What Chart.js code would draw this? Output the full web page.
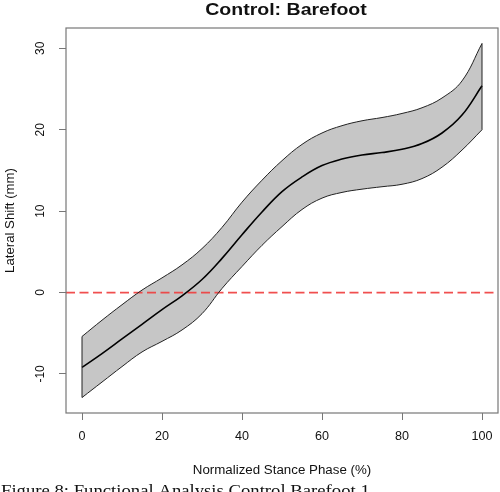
<!DOCTYPE html>
<html>
<head>
<meta charset="utf-8">
<script src="https://cdn.jsdelivr.net/npm/chart.js@4.4.0/dist/chart.umd.min.js"></script>
<style>
  html, body { margin: 0; padding: 0; background: #fff; overflow: hidden; }
  #wrap { width: 500px; height: 492px; }
</style>
</head>
<body>
<div id="wrap"><canvas id="fda-chart" width="500" height="492"></canvas></div>
<script>
// stance phase (%) and lateral shift (mm)
const phase = [0, 5, 10, 15, 20, 25, 30, 35, 40, 45, 50, 55, 60, 65, 70, 75, 80, 85, 90, 95, 100];
const meanShift = [-9.2, -7.5, -5.7, -3.9, -2.1, -0.4, 1.6, 4.2, 7.1, 9.9, 12.4, 14.2, 15.6, 16.4, 16.9, 17.2, 17.6, 18.3, 19.6, 21.8, 25.4];
const upperBand = [-5.4, -3.4, -1.5, 0.3, 1.8, 3.4, 5.4, 8.0, 11.1, 13.8, 16.2, 18.2, 19.6, 20.5, 21.1, 21.5, 22.0, 22.7, 23.9, 26.0, 30.6];
const lowerBand = [-12.9, -11.0, -9.1, -7.3, -6.0, -4.6, -2.6, 0.5, 3.2, 5.8, 8.1, 10.2, 11.6, 12.3, 12.7, 13.0, 13.3, 14.0, 15.4, 17.5, 20.0];
const xTicks = [0, 20, 40, 60, 80, 100];
const yTicks = [-10, 0, 10, 20, 30];
const refLevel = 0;

const pts = arr => arr.map((v, i) => ({ x: phase[i], y: v }));

// text a bit wider than the font, like the scanned figure
function wideText(ctx, str, x, y, sx, angle) {
    ctx.save();
    ctx.translate(x, y);
    if (angle) ctx.rotate(angle);
    ctx.scale(sx, 1);
    ctx.fillText(str, 0, 0);
    ctx.restore();
}

// R-style box, zero line, end caps and all text
const rStyle = {
    id: 'rStyle',
    beforeDatasetsDraw(chart) {
        const { ctx, chartArea: a, scales: { y } } = chart;
        ctx.save();
        ctx.beginPath();
        ctx.rect(a.left, a.top, a.right - a.left, a.bottom - a.top);
        ctx.clip();
        const y0 = y.getPixelForValue(refLevel);
        ctx.strokeStyle = 'rgba(238,60,60,0.9)';
        ctx.lineWidth = 1.8;
        ctx.setLineDash([9, 4.5]);
        ctx.beginPath();
        ctx.moveTo(a.left, y0);
        ctx.lineTo(a.right, y0);
        ctx.stroke();
        ctx.restore();
    },
    afterDatasetsDraw(chart) {
        const { ctx, chartArea: a, scales: { x, y } } = chart;
        ctx.save();
        // band end caps
        ctx.strokeStyle = '#222';
        ctx.lineWidth = 1;
        [0, phase.length - 1].forEach(i => {
            const px = x.getPixelForValue(phase[i]);
            ctx.beginPath();
            ctx.moveTo(px, y.getPixelForValue(lowerBand[i]));
            ctx.lineTo(px, y.getPixelForValue(upperBand[i]));
            ctx.stroke();
        });
        // box
        ctx.strokeStyle = '#777';
        ctx.lineWidth = 1.2;
        ctx.strokeRect(a.left, a.top, a.right - a.left, a.bottom - a.top);

        ctx.fillStyle = '#111';
        ctx.font = '12px "Liberation Sans", Arial, sans-serif';
        ctx.textAlign = 'center';
        ctx.textBaseline = 'middle';
        xTicks.forEach(v => wideText(ctx, String(v), x.getPixelForValue(v), 437, 1.05, 0));
        yTicks.forEach(v => wideText(ctx, String(v), 41, y.getPixelForValue(v), 1, -Math.PI / 2));

        const cx = (a.left + a.right) / 2;
        ctx.textBaseline = 'alphabetic';
        wideText(ctx, 'Normalized Stance Phase (%)', cx, 474, 1.11, 0);
        wideText(ctx, 'Lateral Shift (mm)', 14, (a.top + a.bottom) / 2, 1.1, -Math.PI / 2);

        ctx.font = 'bold 16px "Liberation Sans", Arial, sans-serif';
        wideText(ctx, 'Control: Barefoot', cx + 4, 15, 1.22, 0);

        ctx.textAlign = 'left';
        ctx.font = '17px "Liberation Serif", "Times New Roman", serif';
        wideText(ctx, 'Figure 8: Functional Analysis Control Barefoot 1', 1, 495.5, 1.1, 0);
        ctx.restore();
    }
};

const ctx = document.getElementById('fda-chart').getContext('2d');
let fdaChart = new Chart(ctx, {
    type: 'line',
    data: {
        datasets: [
            {
                label: 'lower',
                data: pts(lowerBand),
                borderColor: '#222',
                borderWidth: 1,
                pointRadius: 0,
                fill: false,
                tension: 0.4
            },
            {
                label: 'upper',
                data: pts(upperBand),
                borderColor: '#222',
                borderWidth: 1,
                backgroundColor: '#c6c6c6',
                pointRadius: 0,
                fill: '-1',
                tension: 0.4
            },
            {
                label: 'mean',
                data: pts(meanShift),
                borderColor: '#000',
                borderWidth: 1.6,
                pointRadius: 0,
                fill: false,
                tension: 0.4
            }
        ]
    },
    options: {
        responsive: false,
        animation: false,
        devicePixelRatio: 1,
        layout: { padding: { left: 0, right: 2, top: 28, bottom: 0 } },
        plugins: {
            legend: { display: false },
            tooltip: { enabled: false },
            filler: { drawTime: 'beforeDatasetsDraw' }
        },
        scales: {
            x: {
                type: 'linear',
                min: -4,
                max: 104,
                afterBuildTicks: s => { s.ticks = xTicks.map(v => ({ value: v })); },
                afterFit: s => { s.height = 79; },
                ticks: { display: false },
                border: { display: false },
                grid: { drawOnChartArea: false, drawTicks: true, tickLength: 7, color: '#777' }
            },
            y: {
                type: 'linear',
                min: -14.8,
                max: 32.5,
                afterBuildTicks: s => { s.ticks = yTicks.map(v => ({ value: v })); },
                afterFit: s => { s.width = 66; },
                ticks: { display: false },
                border: { display: false },
                grid: { drawOnChartArea: false, drawTicks: true, tickLength: 7, color: '#777' }
            }
        }
    },
    plugins: [rStyle]
});
</script>
</body>
</html>
